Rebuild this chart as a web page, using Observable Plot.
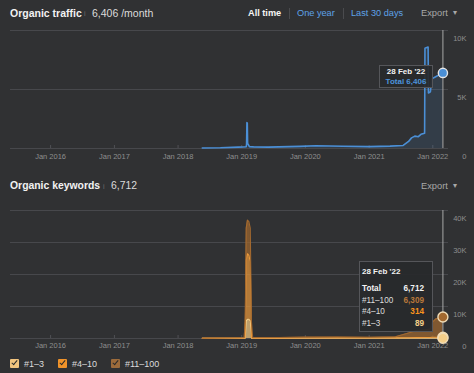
<!DOCTYPE html>
<html><head><meta charset="utf-8">
<script src="https://cdn.jsdelivr.net/npm/d3@7"></script>
<script src="https://cdn.jsdelivr.net/npm/@observablehq/plot@0.6"></script>
<style>
html,body{margin:0;padding:0;background:#303133;}
#root{position:relative;width:474px;height:373px;overflow:hidden;background:#303133;font-family:"Liberation Sans",Arial,sans-serif;}
.t{position:absolute;white-space:nowrap;}
.chart{position:absolute;left:0;}
.sep{position:absolute;width:1px;background:#4a4b4e;}
.tip{position:absolute;background:rgba(40,41,43,0.92);border:1px solid #55565a;box-sizing:border-box;}
.cb{position:absolute;width:9px;height:9px;border-radius:1px;}
.cb::after{content:"";position:absolute;left:3px;top:0px;width:2px;height:5px;border:solid #2a2a2a;border-width:0 1.6px 1.6px 0;transform:rotate(40deg);}
</style>
</head><body>
<div id="root"></div>
<script>
// ---------- data ----------
const trafficDates = ["2018-05-20","2018-09-01","2018-12-15","2019-01-27","2019-01-29","2019-01-31","2019-02-02","2019-02-04","2019-02-06","2019-02-09","2019-02-14","2019-03-10","2019-06-01","2019-12-01","2020-03-01","2020-08-01","2021-01-01","2021-05-01","2021-07-15","2021-08-15","2021-09-01","2021-09-20","2021-10-10","2021-10-25","2021-11-15","2021-11-17","2021-12-05","2021-12-07","2021-12-18","2021-12-26","2022-01-20","2022-02-28"];
const trafficValues = [40,60,120,150,380,2200,2150,420,380,300,160,140,120,180,230,190,160,200,260,600,900,1050,1000,1200,1300,8500,8600,4700,4800,5900,6100,6406];

const kwDates = ["2018-05-20","2018-10-01","2019-01-15","2019-01-21","2019-01-27","2019-02-03","2019-02-11","2019-02-19","2019-02-26","2019-03-05","2019-08-01","2020-01-01","2020-07-01","2021-01-01","2021-06-01","2021-08-15","2021-10-01","2021-11-17","2021-12-20","2021-12-26","2022-01-20","2022-02-28"];
const kwTop3   = [30,40,50,100,5500,6000,6000,5500,100,50,60,80,80,70,80,80,85,85,86,88,88,89];
const kw4to10  = [20,40,50,100,19000,20500,20000,18500,100,60,70,90,100,90,120,150,200,250,280,300,310,314];
const kw11to100= [80,120,150,5000,10000,10500,10500,10500,5000,150,200,250,300,250,350,1500,2200,2400,2600,4500,5800,6309];

const seriesNames = ["#1–3","#4–10","#11–100"];
const seriesColors = ["#f6cf88","#eb9a3c","#a3692f"];
const yearTicks = ["2016-01-01","2017-01-01","2018-01-01","2019-01-01","2020-01-01","2021-01-01","2022-01-01"];
const trafficTicks = [0,5000,10000];
const kwTicks = [0,10000,20000,30000,40000];
const cursorDate = "2022-02-28";
const domainX = ["2015-05-16","2022-04-01"];

// ---------- build ----------
const P = s => new Date(s);
const traffic = trafficDates.map((d,i)=>({date:P(d), value:trafficValues[i]}));
const kwSeries = [kwTop3, kw4to10, kw11to100];
const kwRows = [];
kwDates.forEach((d,i)=>seriesNames.forEach((s,k)=>kwRows.push({date:P(d), series:s, value:kwSeries[k][i]})));
const lastDate = P(kwDates[kwDates.length-1]);
const kwLast = kwRows.filter(r=>+r.date===+lastDate).reverse();
const years = yearTicks.map(P);
const fmtK = d => d===0 ? "0" : (d/1000)+"K";
const font = '"Liberation Sans",Arial,sans-serif';

const root = document.getElementById("root");
function txt(s, left, cy, size, color, weight, lh){
  const e=document.createElement("div"); e.className="t"; e.textContent=s;
  lh = lh || Math.round(size*1.3);
  Object.assign(e.style,{left:left+"px",top:(cy-lh/2)+"px",fontSize:size+"px",lineHeight:lh+"px",color:color,fontWeight:weight||"normal"});
  root.appendChild(e); return e;
}

const common = {
  width:474, marginLeft:10, marginRight:26,
  x:{type:"utc", domain:domainX.map(P)},
  style:{background:"transparent", color:"#8e8e8e", fontFamily:font, fontSize:"7.5px"}
};

const c1 = Plot.plot({
  ...common, height:142, marginTop:8, marginBottom:16,
  y:{domain:[0,10000]},
  marks:[
    Plot.gridY(trafficTicks,{stroke:"#47484c", strokeOpacity:1}),
    Plot.ruleX(years,{stroke:"#505155", insetTop:115}),
    Plot.axisX(years,{tickSize:0, tickPadding:5, tickFormat:d3.utcFormat("Jan %Y"), fill:"#8e8e8e", label:null}),
    Plot.axisY(trafficTicks,{anchor:"right", tickSize:0, tickPadding:0, dx:18, dy:8, textAnchor:"end", tickFormat:fmtK, fill:"#8e8e8e", label:null}),
    Plot.areaY(traffic,{x:"date", y:"value", fill:"#4a90d9", fillOpacity:0.13}),
    Plot.lineY(traffic,{x:"date", y:"value", stroke:"#4b8fd6", strokeWidth:1.6}),
    Plot.ruleX([P(cursorDate)],{stroke:"#a8a8a8", strokeWidth:1}),
    Plot.dot(traffic.slice(-1),{x:"date", y:"value", r:4.6, fill:"#4a8fd6", stroke:"#e6e6e6", strokeWidth:1.4})
  ]
});
c1.classList.add("chart"); c1.style.top="22px"; root.appendChild(c1);

const c2 = Plot.plot({
  ...common, height:156, marginTop:14, marginBottom:14,
  y:{domain:[0,40000]},
  color:{domain:seriesNames, range:seriesColors},
  marks:[
    Plot.gridY(kwTicks,{stroke:"#47484c", strokeOpacity:1}),
    Plot.ruleX(years,{stroke:"#505155", insetTop:125}),
    Plot.axisX(years,{tickSize:0, tickPadding:4, tickFormat:d3.utcFormat("Jan %Y"), fill:"#8e8e8e", label:null}),
    Plot.axisY(kwTicks,{anchor:"right", tickSize:0, tickPadding:0, dx:18, dy:8, textAnchor:"end", tickFormat:fmtK, fill:"#8e8e8e", label:null}),
    Plot.areaY(kwRows,{x:"date", y:"value", z:"series", fill:"series", fillOpacity:0.7, order:seriesNames}),
    Plot.lineY(kwRows, Plot.stackY2({x:"date", y:"value", z:"series", stroke:"series", strokeWidth:1.1, order:seriesNames})),
    Plot.ruleX([P(cursorDate)],{stroke:"#a8a8a8", strokeWidth:1}),
    Plot.dot(kwLast, Plot.stackY2({x:"date", y:"value", z:"series", fill:"series", r:5, stroke:"#f1dcb5", strokeWidth:1.4, order:seriesNames}))
  ]
});
c2.classList.add("chart"); c2.style.top="196px"; root.appendChild(c2);

// ---------- header 1 ----------
txt("Organic traffic",10,13,10.5,"#f2f2f2","bold");
txt("i",84,13,7,"#6d6d6d");
txt("6,406 /month",92,13,10.5,"#dcdcdc");
txt("All time",248,13,9.2,"#f5f5f5","bold");
txt("One year",297,13,9.2,"#5ea2e8");
txt("Last 30 days",351,13,9.2,"#5ea2e8");
txt("Export",421,13,9.3,"#a8a8a8");
txt("▾",453,13,8,"#a8a8a8");
[289,343].forEach(x=>{const s=document.createElement("div");s.className="sep";Object.assign(s.style,{left:x+"px",top:"8px",height:"11px"});root.appendChild(s);});

// tooltip 1
const tp1=document.createElement("div"); tp1.className="tip";
Object.assign(tp1.style,{left:"379px",top:"65px",width:"54px",height:"23px"}); root.appendChild(tp1);
const a=txt("28 Feb '22",379,71.5,8,"#f2f2f2","bold"); a.style.width="54px"; a.style.textAlign="center";
const b=txt("Total 6,406",379,81.5,8,"#4c93dc","bold"); b.style.width="54px"; b.style.textAlign="center";

// ---------- header 2 ----------
txt("Organic keywords",10,186,10.4,"#f2f2f2","bold");
txt("i",103,186,7,"#6d6d6d");
txt("6,712",111,186,10.4,"#dcdcdc");
txt("Export",421,186,9.3,"#a8a8a8");
txt("▾",453,186,8,"#a8a8a8");

// tooltip 2
const tp2=document.createElement("div"); tp2.className="tip";
Object.assign(tp2.style,{left:"359px",top:"261px",width:"74px",height:"71px"}); root.appendChild(tp2);
txt("28 Feb '22",362,272,8,"#f2f2f2","bold");
const rows=[["Total","6,712","#f2f2f2","#f2f2f2",288,"bold"],["#11–100","6,309","#dedede","#b8773a",300,"normal"],["#4–10","314","#dedede","#f7931e",311.5,"normal"],["#1–3","89","#dedede","#f5d08a",323,"normal"]];
rows.forEach(r=>{
  txt(r[0],362,r[4],8.2,r[2],r[5]);
  const v=txt(r[1],380,r[4],8.2,r[3],"bold"); v.style.width="44px"; v.style.textAlign="right";
});

// ---------- legend ----------
const legendX=[[10,24],[58,72],[111,125]];
const cbColors=["#f2c57f","#f0932a","#9c6b3b"];
seriesNames.forEach((s,i)=>{
  const c=document.createElement("div"); c.className="cb";
  Object.assign(c.style,{left:legendX[i][0]+"px",top:"359px",background:cbColors[i]}); root.appendChild(c);
  txt(s,legendX[i][1],364,9,"#dcdcdc");
});
</script>
</body></html>
